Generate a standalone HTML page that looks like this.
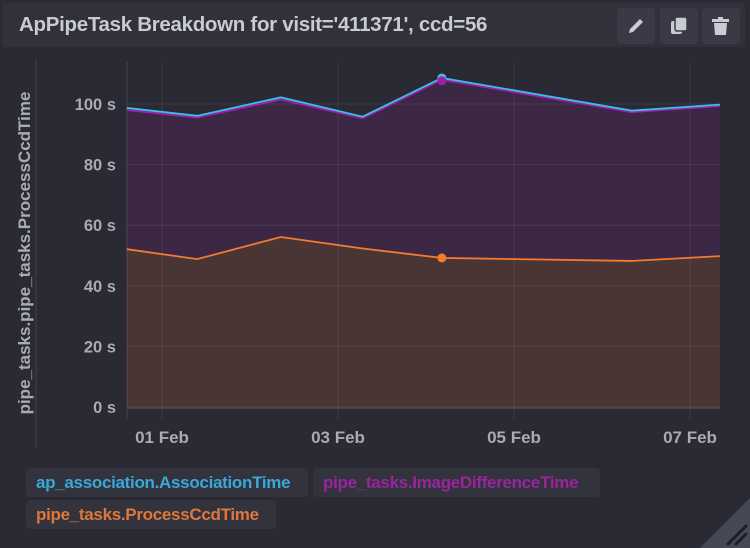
<!DOCTYPE html>
<html><head><meta charset="utf-8"><style>
body{margin:0;background:#292a33;font-family:"Liberation Sans",sans-serif;}
#wrap{position:relative;width:750px;height:548px;overflow:hidden;background:#292a33;}
#hdr{position:absolute;left:2px;top:3px;width:743px;height:44px;background:#30313b;border-radius:4px;}
#title{position:absolute;left:17px;top:10px;font-size:20.5px;font-weight:bold;color:#c9cad2;letter-spacing:-0.3px;}
.btn{position:absolute;top:5px;width:38px;height:36px;background:#393a45;border-radius:4px;}
.chip{position:absolute;height:29px;background:#32333d;border-radius:4px;font-size:17px;font-weight:bold;line-height:29px;padding:0 10px;box-sizing:border-box;letter-spacing:-0.3px;white-space:nowrap;}
</style></head><body>
<div id="wrap">
<div id="hdr">
<div id="title">ApPipeTask Breakdown for visit='411371', ccd=56</div>
<div class="btn" style="left:615px"><svg width="38" height="36"><path d="M12 25 L13 21 L23 11 L26 14 L16 24 Z" fill="#c9cad2"/></svg></div>
<div class="btn" style="left:658px"><svg width="38" height="36"><rect x="11" y="13" width="11" height="13" rx="2" fill="#c9cad2"/><rect x="15" y="9" width="12" height="14" rx="2" fill="#c9cad2" stroke="#393a45" stroke-width="1.5"/></svg></div>
<div class="btn" style="left:700px"><svg width="38" height="36"><rect x="10" y="11" width="17" height="3" fill="#c9cad2"/><rect x="16" y="9" width="5" height="3" fill="#c9cad2"/><path d="M12 15 L25 15 L24 27 L13 27 Z" fill="#c9cad2"/></svg></div>
</div>
<svg id="chart" width="750" height="460" style="position:absolute;left:0;top:0"></svg>
<div class="chip" style="left:26px;top:468px;width:282px;color:#3aa8d8">ap_association.AssociationTime</div>
<div class="chip" style="left:313px;top:468px;width:287px;color:#9a249e">pipe_tasks.ImageDifferenceTime</div>
<div class="chip" style="left:26px;top:500px;width:250px;color:#e0773a">pipe_tasks.ProcessCcdTime</div>
<svg width="50" height="50" style="position:absolute;left:700px;top:498px"><path d="M50 0 L50 50 L0 50 Z" fill="#474856"/><path d="M28 46 L46 28 M36 46 L46 36" stroke="#1e1f26" stroke-width="3" stroke-linecap="round"/></svg>
</div>
<script>
// day offsets from 01 Feb
const days = [-0.4, 0.4, 1.35, 2.28, 3.18, 5.34, 6.34];
const processCcd = [52.1, 48.8, 56.1, 52.3, 49.2, 48.2, 49.8];
const imageDiff = [45.9, 46.7, 45.4, 43.0, 58.8, 49.1, 49.5];
const association = [0.7, 0.6, 0.7, 0.5, 0.6, 0.5, 0.5];
const yTicks = [0, 20, 40, 60, 80, 100];
const xTickDays = [0, 2, 4, 6];
const xTickLabels = ["01 Feb", "03 Feb", "05 Feb", "07 Feb"];

const NS = "http://www.w3.org/2000/svg";
const svg = document.getElementById("chart");
const L = 127, R = 720, T = 62, B = 407;
const xs = d => 162 + d * 88;
const ys = v => B - v * 3.03;
function mk(tag, attrs, parent) {
  const e = document.createElementNS(NS, tag);
  for (const k in attrs) e.setAttribute(k, attrs[k]);
  (parent || svg).appendChild(e);
  return e;
}
let e;
e = mk("line", {x1: 36, y1: 60, x2: 36, y2: 447, stroke: "#353642", "stroke-width": 2});


const s1 = processCcd;
const s2 = processCcd.map((v, i) => v + imageDiff[i]);
const s3 = s2.map((v, i) => v + association[i]);
function areaPath(top, bot) {
  let d = "";
  top.forEach((v, i) => d += (i ? "L" : "M") + xs(days[i]) + " " + ys(v));
  for (let i = bot.length - 1; i >= 0; i--) d += "L" + xs(days[i]) + " " + ys(bot[i]);
  return d + "Z";
}
const zero = days.map(() => 0);
e = mk("path", {d: areaPath(s3, s2), fill: "#2f4e63"});


e = mk("path", {d: areaPath(s2, s1), fill: "#3c2745"});


e = mk("path", {d: areaPath(s1, zero), fill: "#4a3535"});


yTicks.forEach(v => {
  const g = mk("line", {x1: L, x2: R, y1: ys(v), y2: ys(v), stroke: "rgba(255,255,255,0.08)", "stroke-width": 1});
  
  
  const t = mk("text", {x: 116, y: ys(v) + 6, "text-anchor": "end", fill: "#a9aab3", "font-size": 16.5, "font-weight": "bold"});
  t.textContent = v + " s";
  
  
});
xTickDays.forEach((d, i) => {
  const g = mk("line", {x1: xs(d), x2: xs(d), y1: T, y2: B + 12, stroke: "rgba(255,255,255,0.08)", "stroke-width": 1});
  
  
  const t = mk("text", {x: xs(d), y: 443, "text-anchor": "middle", fill: "#a9aab3", "font-size": 17, "font-weight": "bold"});
  t.textContent = xTickLabels[i];
  
  
});
e = mk("line", {x1: L, x2: L, y1: T, y2: B + 12, stroke: "rgba(255,255,255,0.12)"});


e = mk("line", {x1: L, x2: R, y1: B + 1, y2: B + 1, stroke: "rgba(255,255,255,0.15)", "stroke-width": 1.5});


function line(vals, color, name) {
  const pts = vals.map((v, i) => xs(days[i]) + "," + ys(v)).join(" ");
  const p = mk("polyline", {points: pts, fill: "none", stroke: color, "stroke-width": 1.8});
  
  
}
line(s2, "#a020a8", "line-image-difference");
line(s3, "#3ac0ea", "line-association");
line(s1, "#f47a30", "line-process-ccd");
const hi = 4;
e = mk("circle", {cx: xs(days[hi]), cy: ys(s3[hi]), r: 4.5, fill: "#3ac0ea"});


e = mk("circle", {cx: xs(days[hi]), cy: ys(s2[hi]) + 1, r: 4.5, fill: "#a020a8"});


e = mk("circle", {cx: xs(days[hi]), cy: ys(s1[hi]), r: 4.5, fill: "#f47a30"});


e = mk("text", {x: 0, y: 0, transform: "translate(30,253) rotate(-90)", "text-anchor": "middle", fill: "#a9aab3", "font-size": 17, "font-weight": "bold"});
e.textContent = "pipe_tasks.pipe_tasks.ProcessCcdTime";


</script>
</body></html>
